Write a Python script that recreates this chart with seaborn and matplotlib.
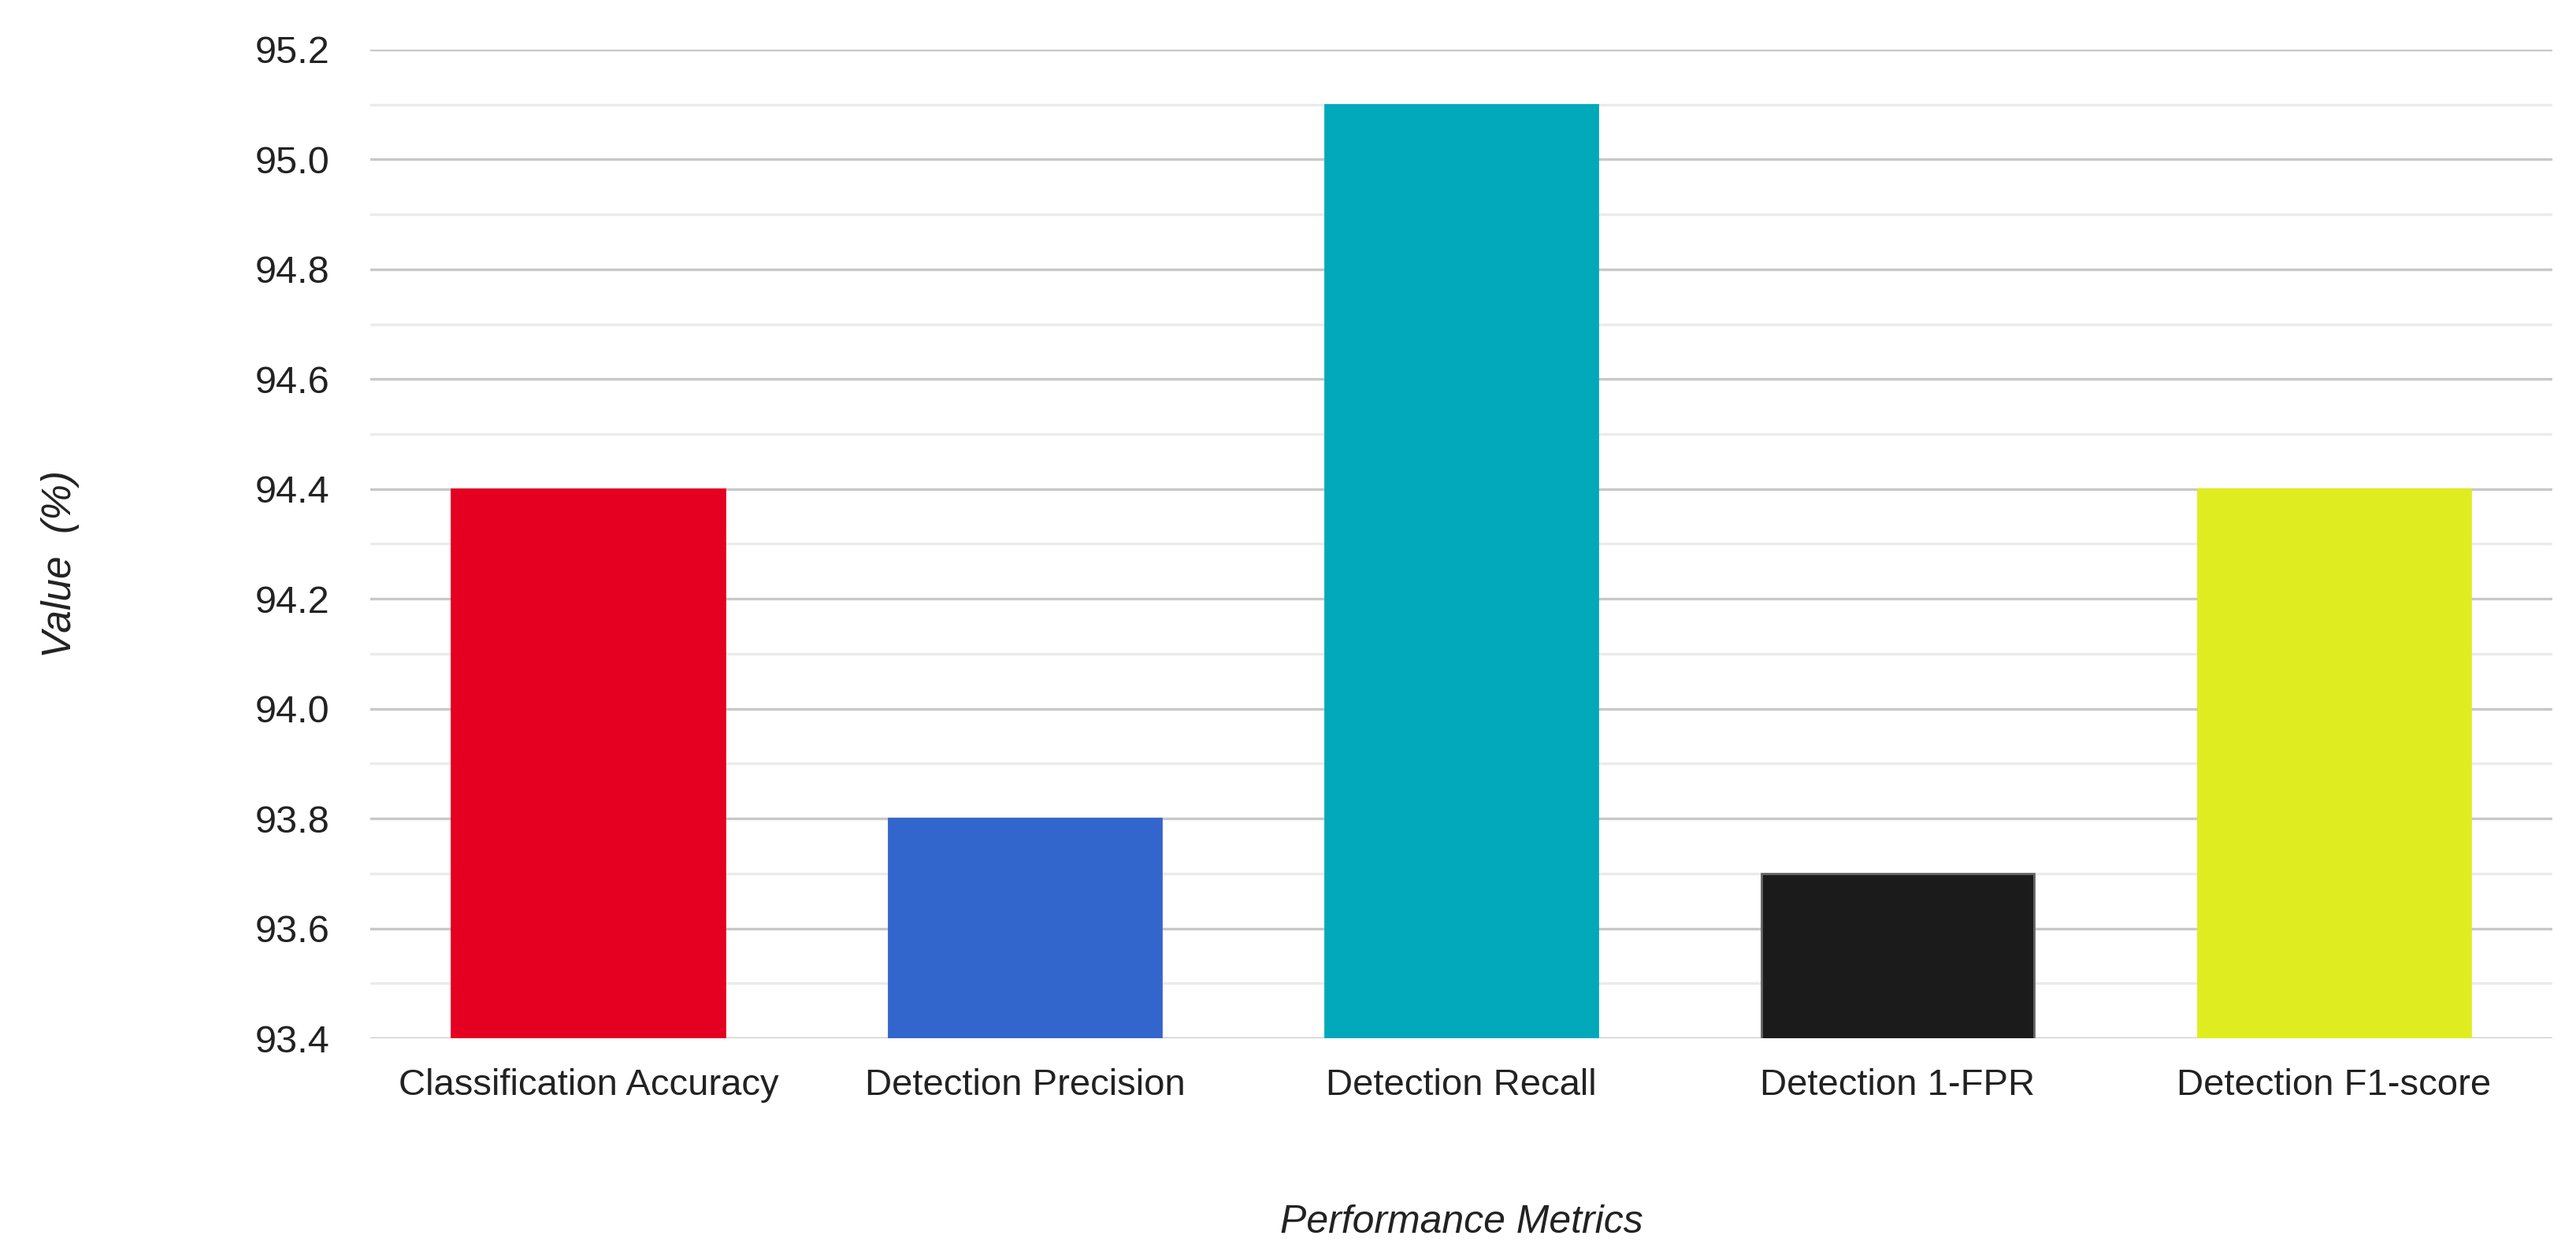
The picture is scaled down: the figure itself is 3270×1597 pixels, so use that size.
import numpy as np
import pandas as pd
import matplotlib
matplotlib.use('Agg')
import matplotlib.pyplot as plt
import seaborn as sns
from matplotlib.ticker import MultipleLocator

metrics = ['Classification Accuracy', 'Detection Precision', 'Detection Recall',
           'Detection 1-FPR', 'Detection F1-score']
values = [94.4, 93.8, 95.1, 93.7, 94.4]
colors = ['#e50022', '#3366cc', '#02a9bb', '#1b1b1b', '#dfed20']
edges = ['#e50022', '#3366cc', '#02a9bb', '#666666', '#dfed20']
y_ticks = [93.4, 93.6, 93.8, 94.0, 94.2, 94.4, 94.6, 94.8, 95.0, 95.2]

sns.set_style('white')
plt.rcParams['font.family'] = ['Liberation Sans', 'DejaVu Sans']

df = pd.DataFrame({'metric': metrics, 'value': values})

fig = plt.figure(figsize=(32.7, 15.97), dpi=100)
ax = fig.add_axes([0.1437, 0.1747, 0.8471, 0.7859])

sns.barplot(data=df, x='metric', y='value', hue='metric', palette=colors,
            width=0.626, legend=False, ax=ax, saturation=1)
for patch, ec in zip(ax.patches, edges):
    patch.set_edgecolor(ec)
    patch.set_linewidth(2)

ax.set_ylim(93.4, 95.2)
ax.set_yticks(y_ticks)
ax.set_yticklabels([f'{t:.1f}' for t in y_ticks])
ax.yaxis.set_minor_locator(MultipleLocator(0.1))
ax.grid(axis='y', which='major', color='#c8c8c8', linewidth=2.4)
ax.grid(axis='y', which='minor', color='#ebebeb', linewidth=2.4)
ax.set_axisbelow(True)
sns.despine(ax=ax, left=True, bottom=True)

ax.tick_params(axis='y', which='both', length=0, pad=37, labelsize=35, labelcolor='#222222')
ax.tick_params(axis='x', length=0, pad=27, labelsize=34, labelcolor='#222222')

ax.set_ylabel('Value  (%)', fontsize=37, style='italic', color='#222222')
ax.set_xlabel('Performance Metrics', fontsize=36, style='italic', color='#222222')
ax.yaxis.set_label_coords(-0.133, 0.48)
ax.xaxis.set_label_coords(0.5, -0.168)

fig.savefig('out.png', dpi=100, facecolor='white')
